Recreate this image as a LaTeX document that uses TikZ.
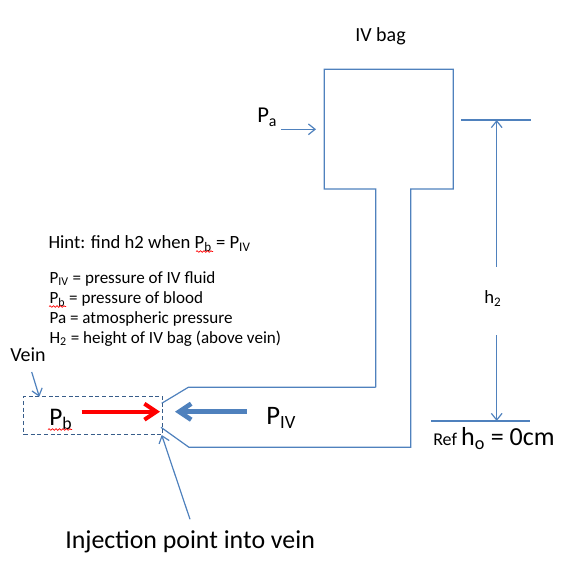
\documentclass[tikz,border=0pt]{standalone}
\usepackage{fontspec}
\setmainfont{Carlito}
\usetikzlibrary{arrows.meta,decorations.pathmorphing}
\definecolor{lblue}{RGB}{79,129,189}
\definecolor{dblue}{RGB}{56,93,138}
\newcommand\fs[1]{\fontsize{#1}{#1}\selectfont}
\begin{document}
\begin{tikzpicture}[x=0.75pt,y=-0.75pt,
  thinline/.style={draw=lblue, line width=0.9pt},
  barb/.style={-{Straight Barb[length=5pt,width=8pt]}},
  lbl/.style={inner sep=0pt, anchor=base west, text=black},
  spell/.style={draw=red, decorate, decoration={snake, amplitude=0.6pt, segment length=2.6pt}, line width=0.5pt}]
\useasboundingbox (0,0) rectangle (570,580);

% IV bag and tube
\coordinate (t1) at (375.7,387.3);
\coordinate (n1) at (375.7,189);
\coordinate (b1) at (324.3,189);
\coordinate (b2) at (324.3,69.3);
\coordinate (b3) at (453.3,69.3);
\coordinate (b4) at (453.3,189);
\coordinate (n2) at (410.7,189);
\coordinate (t2) at (410.7,447.3);
\coordinate (t3) at (189,447.3);
\coordinate (t4) at (161,427.3);
\coordinate (t5) at (188.3,387.3);
\coordinate (t6) at (161.7,403.3);
\draw[thinline] (t1) -- (n1) -- (b1) -- (b2) -- (b3) -- (b4) -- (n2) -- (t2) -- (t3) -- (t4);
\draw[thinline] (t1) -- (t5) -- (t6);

% vein
\node[draw=dblue, dashed, dash pattern=on 3pt off 2pt, line width=0.8pt, minimum width=138.4*0.75pt, minimum height=38.6*0.75pt, inner sep=0pt, anchor=north west] (vein) at (23.3,395.7) {};

% flow arrows
\coordinate (r1) at (81.7,411.7);
\coordinate (r2) at (160,411.7);
\draw[red, line width=3pt, -{Straight Barb[length=9pt,width=12pt]}] (r1) -- (r2);
\coordinate (bl1) at (246.7,411.7);
\coordinate (bl2) at (175,411.7);
\draw[lblue, line width=3.5pt, -{Straight Barb[length=9pt,width=12pt]}] (bl1) -- (bl2);

% labels
\node[lbl] (ivbag) at (355,42) {\fs{15}IV bag};
\node[lbl] (pa) at (257,123) {\fs{17}P\textsubscript{a}};
\coordinate (pa1) at (281,129.3);
\coordinate (pa2) at (316,129.3);
\draw[thinline, barb] (pa1) -- (pa2);

\node[lbl] (hint) at (48.3,248.3) {\fs{14}Hint: find h2 when P\textsubscript{b} = P\textsubscript{IV}};
\node[lbl] (l1) at (49.3,283.3) {\fs{12.8}P\textsubscript{IV} = pressure of IV fluid};
\node[lbl] (l2) at (49.3,303.3) {\fs{12.8}P\textsubscript{b} = pressure of blood};
\node[lbl] (l3) at (49.3,323.3) {\fs{12.8}Pa = atmospheric pressure};
\node[lbl] (l4) at (49.3,343.3) {\fs{12.8}H\textsubscript{2} = height of IV bag (above vein)};

\node[lbl] (veinlbl) at (10,361) {\fs{15}Vein};
\coordinate (v1) at (31.7,372);
\coordinate (v2) at (39.3,396.7);
\draw[thinline, barb] (v1) -- (v2);

\node[lbl] (pb) at (49,425) {\fs{19}P\textsubscript{b}};
\node[lbl] (piv) at (266,424) {\fs{20}P\textsubscript{IV}};

\node[lbl] (inj) at (65,548) {\fs{19.4}Injection point into vein};
\coordinate (i1) at (190,519.3);
\coordinate (i2) at (161.7,435);
\draw[thinline, barb] (i1) -- (i2);

% dimension
\coordinate (d1) at (461,120);
\coordinate (d2) at (530.7,120);
\coordinate (d3) at (431,421);
\coordinate (d4) at (530,421);
\draw[thinline] (d1) -- (d2);
\draw[thinline] (d3) -- (d4);
\coordinate (dt) at (496.7,120);
\coordinate (db) at (496.7,421);
\coordinate (g1) at (496.7,266.7);
\coordinate (g2) at (496.7,335);
\draw[thinline, barb] (g1) -- (dt);
\draw[thinline, barb] (g2) -- (db);
\node[lbl] (h2) at (484,303.3) {\fs{14}h\textsubscript{2}};
\node[lbl] (ref) at (433,445) {\fs{13.5}Ref \fs{19.5}h\textsubscript{o} = 0cm};

% spell-check marks
\draw[spell] (196,251.5) -- (213,251.5);
\draw[spell] (49,306.5) -- (66,306.5);
\draw[spell] (48,429.5) -- (72,429.5);
\end{tikzpicture}
\end{document}
